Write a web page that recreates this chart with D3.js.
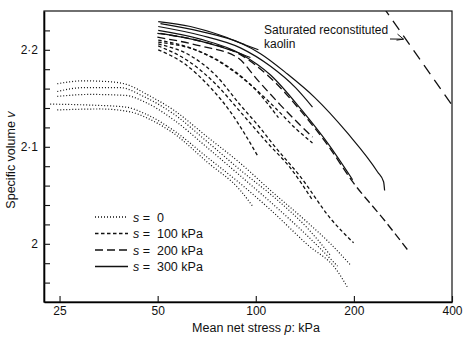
<!DOCTYPE html>
<html>
<head>
<meta charset="utf-8">
<script src="https://cdn.jsdelivr.net/npm/d3@7"></script>
<style>
  body { margin: 0; background: #fff; }
  svg { display: block; font-family: "Liberation Sans", Arial, sans-serif; }
</style>
</head>
<body>
<svg id="chart" width="474" height="342"></svg>
<script>
// ticks
const xTicks = [25, 50, 100, 200, 400];
const yMajor = [2.0, 2.1, 2.2];
const yMinor = [1.96, 1.98, 2.02, 2.04, 2.06, 2.08, 2.12, 2.14, 2.16, 2.18, 2.22];

// s = 0 (dotted) : [p kPa, v]
const s0Curves = [
  [[24.6,2.165],[29.6,2.168],[35.8,2.167],[41.2,2.163],[45.2,2.156],[55.9,2.138],[71.1,2.110],[89.7,2.083],[111,2.055],[144.2,2.022],[169.6,2.000],[195.4,1.978]],
  [[24.6,2.157],[29.6,2.161],[38.4,2.161],[45.2,2.152],[55.9,2.134],[71.1,2.105],[89.7,2.076],[116.6,2.045],[144.2,2.016],[169.6,1.988]],
  [[24.6,2.152],[31.1,2.154],[39.8,2.153],[45.8,2.146],[55.9,2.128],[71.1,2.099],[89.7,2.070],[111,2.043],[144.2,2.008],[178.2,1.977]],
  [[23.4,2.144],[31.1,2.143],[39.8,2.141],[45.8,2.134],[55.9,2.117],[71.1,2.089],[89.7,2.062],[111,2.035],[144.2,1.999],[177,1.973],[191.3,1.955]],
  [[24.6,2.138],[33.3,2.139],[41.2,2.136],[47.5,2.128],[55.9,2.114],[71.1,2.084],[89.7,2.055],[97.7,2.039]]
];

// s = 100 kPa (short dash)
const s100Curves = [
  [[50.2,2.206],[63.0,2.194],[75.2,2.174],[89.7,2.143],[103.4,2.119],[113.3,2.102],[137.2,2.069],[169.6,2.026],[199.6,2.001]],
  [[50.2,2.204],[63.0,2.187],[75.2,2.165],[89.7,2.136],[108.6,2.104],[127.8,2.078],[149.3,2.045]],
  [[50.2,2.210],[63.0,2.202],[77.9,2.187],[96.3,2.164],[114.9,2.140],[132.4,2.119],[149.3,2.104]],
  [[50.2,2.200],[60.8,2.185],[72.6,2.161],[83.6,2.136],[93.0,2.112],[101.2,2.091]],
  [[50.2,2.208],[67.6,2.198],[83.6,2.181],[99.8,2.159],[117.4,2.130]]
];

// s = 200 kPa (long dash)
const s200Curves = [
  [[49.9,2.217],[67.6,2.209],[89.7,2.195],[111,2.171],[138.2,2.136],[166,2.102],[198.2,2.064],[248.5,2.024],[296.6,1.991]],
  [[49.9,2.213],[67.6,2.204],[87.9,2.192],[101.2,2.169],[119.1,2.143],[137.2,2.122],[149.3,2.110]]
];

// s = 300 kPa (solid)
const s300Curves = [
  [[50.2,2.229],[63.0,2.224],[77.9,2.215],[93.0,2.205],[101.9,2.200]],
  [[51.0,2.227],[67.6,2.219],[89.7,2.207],[103.4,2.196],[125.1,2.175],[151.5,2.151],[191.3,2.114],[236.5,2.074],[246.7,2.064],[248.5,2.055]],
  [[50.2,2.224],[67.6,2.215],[89.7,2.202],[111,2.183],[132.4,2.161],[149.3,2.141]],
  [[50.2,2.220],[67.6,2.211],[89.7,2.196],[111,2.174],[138.2,2.138],[166,2.104],[198.2,2.066]],
  [[51.0,2.217],[67.6,2.209],[86.6,2.198],[96.3,2.192]]
];

// saturated reconstituted kaolin
const saturatedLine = [[245,2.245],[402,2.142]];
const arrowTip = [284, 2.211];

const legendLabels = ['0', '100 kPa', '200 kPa', '300 kPa'];
const legendDash = ['1,2', '3.5,2.5', '8,4', null];

const svg = d3.select('#chart');
const margin = { left: 44, right: 22, top: 11, bottom: 40 };
const W = 474, H = 342;

const x = d3.scaleLog().domain([22.4, 400]).range([margin.left, W - margin.right]);
const y = d3.scaleLinear().domain([1.94, 2.24]).range([H - margin.bottom, margin.top]);

svg.append('defs').append('clipPath').attr('id', 'plot')
  .append('rect')
  .attr('x', margin.left).attr('y', margin.top)
  .attr('width', W - margin.left - margin.right)
  .attr('height', H - margin.top - margin.bottom);

// frame
svg.append('rect')
  .attr('x', margin.left).attr('y', margin.top)
  .attr('width', W - margin.left - margin.right)
  .attr('height', H - margin.top - margin.bottom)
  .attr('fill', 'none').attr('stroke', '#111').attr('stroke-width', 1.2);

// axes with inside ticks
const xAxis = svg.append('g')
  .attr('transform', `translate(0,${H - margin.bottom})`)
  .call(d3.axisBottom(x).tickValues(xTicks).tickSizeInner(-6).tickSizeOuter(0).tickPadding(4).tickFormat(d3.format('d')));
xAxis.select('.domain').attr('stroke-width', 1.6);

const yAxis = svg.append('g')
  .attr('transform', `translate(${margin.left},0)`)
  .call(d3.axisLeft(y).tickValues(yMajor.concat(yMinor)).tickSizeInner(-6).tickSizeOuter(0).tickPadding(6)
    .tickFormat(d => yMajor.some(m => Math.abs(m - d) < 1e-9) ? (d === 2 ? '2' : d.toFixed(1).replace('.', '·')) : ''));
yAxis.select('.domain').attr('stroke-width', 1.6);

svg.selectAll('.tick text').attr('font-size', 12).attr('fill', '#111')
  .attr('font-family', '"Liberation Sans", Arial, sans-serif');
svg.selectAll('.tick line').attr('stroke', '#111').attr('stroke-width', 1.1);

// axis titles
const xt = svg.append('text')
  .attr('x', 256).attr('y', 332)
  .attr('text-anchor', 'middle').attr('font-size', 12.5).attr('fill', '#111');
xt.append('tspan').text('Mean net stress ');
xt.append('tspan').attr('font-style', 'italic').text('p');
xt.append('tspan').text(': kPa');

const yt = svg.append('text')
  .attr('transform', 'translate(15,160) rotate(-90)')
  .attr('text-anchor', 'middle').attr('font-size', 12.5).attr('fill', '#111');
yt.append('tspan').text('Specific volume ');
yt.append('tspan').attr('font-style', 'italic').text('v');

// curves
const line = d3.line()
  .x(d => x(d[0]))
  .y(d => y(d[1]))
  .curve(d3.curveMonotoneX);

const plot = svg.append('g').attr('clip-path', 'url(#plot)');

const groups = [
  { curves: s0Curves, dash: '1,2', width: 1.2 },
  { curves: s100Curves, dash: '3.5,2.5', width: 1.3 },
  { curves: s200Curves, dash: '8,4', width: 1.3 },
  { curves: s300Curves, dash: null, width: 1.2 }
];

groups.forEach(g => {
  plot.append('g').selectAll('path')
    .data(g.curves)
    .enter().append('path')
    .attr('d', line)
    .attr('fill', 'none')
    .attr('stroke', '#111')
    .attr('stroke-width', g.width)
    .attr('stroke-dasharray', g.dash);
});

plot.append('path')
  .attr('d', d3.line().x(d => x(d[0])).y(d => y(d[1]))(saturatedLine))
  .attr('fill', 'none').attr('stroke', '#111').attr('stroke-width', 1.3)
  .attr('stroke-dasharray', '11,7');

// annotation
svg.append('text').attr('font-size', 12).attr('fill', '#111')
  .attr('x', 264).attr('y', 34).text('Saturated reconstituted');
svg.append('text').attr('font-size', 12).attr('fill', '#111')
  .attr('x', 264).attr('y', 48).text('kaolin');

const tx = x(arrowTip[0]), ty = y(arrowTip[1]);
svg.append('line')
  .attr('x1', 390).attr('y1', 39).attr('x2', tx).attr('y2', ty)
  .attr('stroke', '#111').attr('stroke-width', 1);
svg.append('path')
  .attr('d', `M${tx - 6},${ty - 5} L${tx},${ty} L${tx - 7},${ty + 1}`)
  .attr('fill', 'none').attr('stroke', '#111').attr('stroke-width', 1);

// legend
const legend = svg.append('g');
legendLabels.forEach((lab, i) => {
  const ly = 217 + i * 16.5;
  legend.append('line')
    .attr('x1', 95).attr('x2', 128).attr('y1', ly).attr('y2', ly)
    .attr('stroke', '#111').attr('stroke-width', 1.3)
    .attr('stroke-dasharray', legendDash[i]);
  const t = legend.append('text')
    .attr('x', 133).attr('y', ly + 4.5)
    .attr('font-size', 12.5).attr('fill', '#111')
    .attr('xml:space', 'preserve');
  t.append('tspan').attr('font-style', 'italic').text('s');
  t.append('tspan').text(' =  ' + lab);
});
</script>
</body>
</html>
